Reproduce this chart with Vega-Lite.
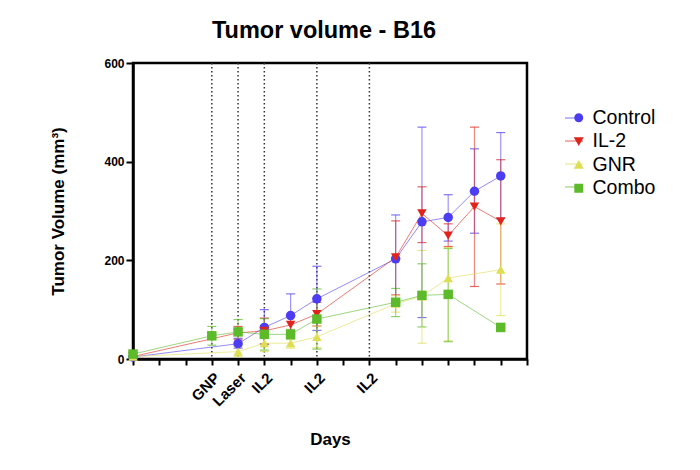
{
  "$schema": "https://vega.github.io/schema/vega-lite/v6.json",
  "width": 394,
  "height": 296,
  "autosize": "none",
  "padding": {"left": 133, "top": 63, "right": 173, "bottom": 111},
  "config": {
    "font": "Liberation Sans",
    "view": {"stroke": "black", "strokeWidth": 2.5}
  },
  "title": {"text": "Tumor volume - B16", "fontSize": 23.5, "fontWeight": "bold", "offset": 15, "dx": -6, "color": "black"},
  "datasets": {
    "tumor": [
      {"group": "Control", "day": 0, "mean": 4, "lo": 2, "hi": 6},
      {"group": "Control", "day": 4, "mean": 31, "lo": 22, "hi": 42},
      {"group": "Control", "day": 5, "mean": 64, "lo": 30, "hi": 100},
      {"group": "Control", "day": 6, "mean": 88, "lo": 50, "hi": 132},
      {"group": "Control", "day": 7, "mean": 122, "lo": 58, "hi": 188},
      {"group": "Control", "day": 10, "mean": 203, "lo": 113, "hi": 292},
      {"group": "Control", "day": 11, "mean": 278, "lo": 84, "hi": 470},
      {"group": "Control", "day": 12, "mean": 287, "lo": 239, "hi": 333},
      {"group": "Control", "day": 13, "mean": 340, "lo": 255, "hi": 426},
      {"group": "Control", "day": 14, "mean": 371, "lo": 285, "hi": 459},
      {"group": "IL-2", "day": 0, "mean": 5, "lo": 3, "hi": 7},
      {"group": "IL-2", "day": 4, "mean": 53, "lo": 40, "hi": 66},
      {"group": "IL-2", "day": 5, "mean": 57, "lo": 30, "hi": 83},
      {"group": "IL-2", "day": 6, "mean": 69, "lo": 50, "hi": 88},
      {"group": "IL-2", "day": 7, "mean": 91, "lo": 67, "hi": 115},
      {"group": "IL-2", "day": 10, "mean": 206, "lo": 130, "hi": 280},
      {"group": "IL-2", "day": 11, "mean": 295, "lo": 236, "hi": 349},
      {"group": "IL-2", "day": 12, "mean": 250, "lo": 228, "hi": 274},
      {"group": "IL-2", "day": 13, "mean": 309, "lo": 147, "hi": 470},
      {"group": "IL-2", "day": 14, "mean": 279, "lo": 152, "hi": 404},
      {"group": "GNR", "day": 0, "mean": 5, "lo": 3, "hi": 7},
      {"group": "GNR", "day": 4, "mean": 15, "lo": 5, "hi": 25},
      {"group": "GNR", "day": 5, "mean": 32, "lo": 15, "hi": 50},
      {"group": "GNR", "day": 6, "mean": 32, "lo": 22, "hi": 42},
      {"group": "GNR", "day": 7, "mean": 45, "lo": 23, "hi": 67},
      {"group": "GNR", "day": 10, "mean": 112, "lo": 95, "hi": 128},
      {"group": "GNR", "day": 11, "mean": 127, "lo": 32, "hi": 220},
      {"group": "GNR", "day": 12, "mean": 164, "lo": 37, "hi": 226},
      {"group": "GNR", "day": 14, "mean": 181, "lo": 88, "hi": 274},
      {"group": "Combo", "day": 0, "mean": 10, "lo": 7, "hi": 13},
      {"group": "Combo", "day": 3, "mean": 47, "lo": 28, "hi": 66},
      {"group": "Combo", "day": 4, "mean": 55, "lo": 30, "hi": 80},
      {"group": "Combo", "day": 5, "mean": 50, "lo": 18, "hi": 82},
      {"group": "Combo", "day": 6, "mean": 50, "lo": 40, "hi": 60},
      {"group": "Combo", "day": 7, "mean": 81, "lo": 20, "hi": 142},
      {"group": "Combo", "day": 10, "mean": 115, "lo": 86, "hi": 143},
      {"group": "Combo", "day": 11, "mean": 129, "lo": 65, "hi": 193},
      {"group": "Combo", "day": 12, "mean": 131, "lo": 35, "hi": 224},
      {"group": "Combo", "day": 14, "mean": 64}
    ],
    "events": [
      {"day": 3}, {"day": 4}, {"day": 5}, {"day": 7}, {"day": 9}
    ]
  },
  "encoding": {
    "x": {
      "field": "day", "type": "quantitative",
      "scale": {"domain": [0, 15], "nice": false, "zero": false},
      "axis": {
        "title": "Days", "titleFontSize": 17, "titleFontWeight": "bold", "titleColor": "black", "titlePadding": 23,
        "values": [0,1,2,3,4,5,6,7,8,9,10,11,12,13,14,15],
        "labelExpr": "datum.value == 3 ? 'GNP' : datum.value == 4 ? 'Laser' : (datum.value == 5 || datum.value == 7 || datum.value == 9) ? 'IL2' : ''",
        "labelAngle": -45, "labelFontSize": 15, "labelFontWeight": "bold", "labelColor": "black",
        "labelPadding": 5,
        "domainColor": "black", "domainWidth": 2.5, "tickColor": "black", "tickWidth": 2, "tickSize": 6,
        "grid": false, "labelOverlap": false, "labelBound": false, "labelFlush": false
      }
    }
  },
  "layer": [
    {
      "data": {"name": "events"},
      "mark": {"type": "rule", "color": "#333333", "strokeWidth": 1.5, "strokeDash": [1.5, 2.5]},
      "encoding": {"x": {"field": "day", "type": "quantitative"}}
    },
    {
      "data": {"name": "tumor"},
      "transform": [{"filter": "isValid(datum.lo)"}],
      "mark": {"type": "errorbar", "thickness": 1.2, "rule": {"strokeOpacity": 0.55}, "ticks": {"size": 9, "strokeOpacity": 0.55}},
      "encoding": {
        "y": {"field": "lo", "type": "quantitative", "title": "Tumor Volume (mm³)"},
        "y2": {"field": "hi"},
        "color": {"field": "group", "type": "nominal"}
      }
    },
    {
      "data": {"name": "tumor"},
      "mark": {"type": "line", "strokeWidth": 1, "opacity": 0.6},
      "encoding": {
        "y": {"field": "mean", "type": "quantitative", "title": "Tumor Volume (mm³)"},
        "stroke": {
          "field": "group", "type": "nominal",
          "sort": ["Control", "IL-2", "GNR", "Combo"],
          "scale": {"range": ["#4c3cf2", "#e0241c", "#dede55", "#5cba2b"]},
          "legend": {
            "title": null, "orient": "none", "legendX": 431, "legendY": 45,
            "symbolType": "stroke", "symbolSize": 324, "symbolStrokeWidth": 1.2, "symbolOpacity": 0.6,
            "labelFontSize": 19.5, "labelExpr": "''", "rowPadding": 3, "labelOffset": 0
          }
        }
      }
    },
    {
      "data": {"name": "tumor"},
      "mark": {"type": "point", "filled": true, "size": 90, "opacity": 1},
      "encoding": {
        "y": {
          "field": "mean", "type": "quantitative",
          "scale": {"domain": [0, 600], "nice": false},
          "axis": {
            "title": "Tumor Volume (mm³)", "titleFontSize": 17, "titleFontWeight": "bold", "titleColor": "black", "titlePadding": 36,
            "values": [0, 200, 400, 600], "labelFontSize": 12, "labelFontWeight": "bold", "labelColor": "black",
            "domainColor": "black", "domainWidth": 2.5, "tickColor": "black", "tickWidth": 2, "tickSize": 7, "labelPadding": 2,
            "grid": false
          }
        },
        "color": {
          "field": "group", "type": "nominal",
          "scale": {"domain": ["Control", "IL-2", "GNR", "Combo"], "range": ["#4c3cf2", "#e0241c", "#dede55", "#5cba2b"]},
          "legend": {
            "title": null, "orient": "none", "legendX": 436, "legendY": 45,
            "symbolSize": 55, "symbolOpacity": 1,
            "labelFontSize": 19.5, "labelColor": "black", "rowPadding": 2.5, "labelOffset": 4,
            "encode": {"symbols": {"update": {"opacity": {"value": 1}, "fillOpacity": {"value": 1}, "strokeOpacity": {"value": 1}}}}
          }
        },
        "shape": {
          "field": "group", "type": "nominal",
          "scale": {"domain": ["Control", "IL-2", "GNR", "Combo"], "range": ["circle", "triangle-down", "triangle-up", "square"]},
          "legend": {
            "title": null, "orient": "none", "legendX": 436, "legendY": 45,
            "symbolSize": 55, "symbolOpacity": 1,
            "labelFontSize": 19.5, "labelColor": "black", "rowPadding": 2.5, "labelOffset": 4,
            "encode": {"symbols": {"update": {"opacity": {"value": 1}, "fillOpacity": {"value": 1}, "strokeOpacity": {"value": 1}}}}
          }
        }
      }
    }
  ]
}
